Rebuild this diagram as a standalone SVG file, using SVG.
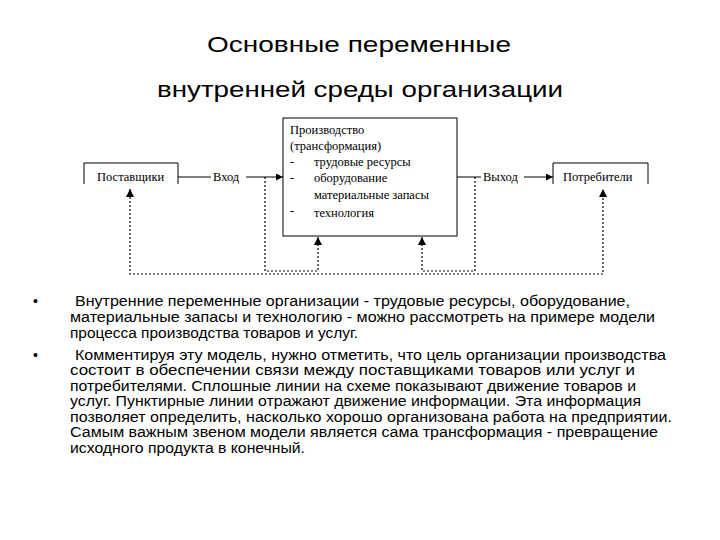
<svg xmlns="http://www.w3.org/2000/svg" width="720" height="540" viewBox="0 0 720 540">
<defs>
<marker id="a" viewBox="0 0 10 10" refX="10" refY="5" markerWidth="7" markerHeight="7" orient="auto-start-reverse"><path d="M0,0L10,5L0,10z" fill="#000"/></marker>
<style>
.t{font-family:"Liberation Serif",serif;font-size:12.5px;fill:#000}
.b{font-family:"Liberation Sans",Arial,sans-serif;font-size:14px;fill:#000}
.h{font-family:"Liberation Sans",Arial,sans-serif;font-size:22px;fill:#000}
.s{stroke:#000;stroke-width:1;fill:none}
.d{stroke:#000;stroke-width:1.2;fill:none;stroke-dasharray:2,2}
</style>
</defs>
<rect width="720" height="540" fill="#fff"/>
<text class="h" x="207" y="52" textLength="304" lengthAdjust="spacingAndGlyphs">Основные переменные</text>
<text class="h" x="157" y="97" textLength="406" lengthAdjust="spacingAndGlyphs">внутренней среды организации</text>
<g id="suppliers"><path class="s" d="M84,184V163H178V184"/><text class="t" x="97" y="181">Поставщики</text></g>
<g id="production"><rect class="s" x="283" y="118" width="174" height="118"/>
<text class="t" x="290" y="134">Производство</text>
<text class="t" x="290" y="150">(трансформация)</text>
<text class="t" x="290" y="166">-</text><text class="t" x="314" y="166">трудовые ресурсы</text>
<text class="t" x="290" y="182">-</text><text class="t" x="314" y="182">оборудование</text>
<text class="t" x="314" y="199">материальные запасы</text>
<text class="t" x="290" y="215">-</text><text class="t" x="314" y="217">технология</text></g>
<g id="consumers"><path class="s" d="M553,184V163H648V184"/><text class="t" x="563" y="181">Потребители</text></g>
<g id="connectors">
<path class="s" d="M178,177H211M246,177H283" marker-end="url(#a)"/>
<text class="t" x="213" y="181">Вход</text>
<path class="s" d="M457,177H481M524,177H553" marker-end="url(#a)"/>
<text class="t" x="483" y="181">Выход</text>
<path class="d" d="M265,177V271H318V237" marker-end="url(#a)"/>
<path class="d" d="M475,177V271H422V237" marker-end="url(#a)"/>
<path class="d" d="M130,189V274H603V189" marker-start="url(#a)" marker-end="url(#a)"/>
</g>
<text class="b" x="33" y="306">•</text>
<text class="b" x="33" y="360">•</text>
<g class="b">
<text x="75" y="306" textLength="555" lengthAdjust="spacingAndGlyphs">Внутренние переменные организации - трудовые ресурсы, оборудование,</text>
<text x="70" y="322" textLength="585" lengthAdjust="spacingAndGlyphs">материальные запасы и технологию - можно рассмотреть на примере модели</text>
<text x="70" y="338" textLength="288" lengthAdjust="spacingAndGlyphs">процесса производства товаров и услуг.</text>
<text x="75" y="360" textLength="591" lengthAdjust="spacingAndGlyphs">Комментируя эту модель, нужно отметить, что цель организации производства</text>
<text x="70" y="375" textLength="565" lengthAdjust="spacingAndGlyphs">состоит в обеспечении связи между поставщиками товаров или услуг и</text>
<text x="70" y="391" textLength="566" lengthAdjust="spacingAndGlyphs">потребителями. Сплошные линии на схеме показывают движение товаров и</text>
<text x="70" y="406" textLength="571" lengthAdjust="spacingAndGlyphs">услуг. Пунктирные линии отражают движение информации. Эта информация</text>
<text x="70" y="422" textLength="602" lengthAdjust="spacingAndGlyphs">позволяет определить, насколько хорошо организована работа на предприятии.</text>
<text x="70" y="437" textLength="588" lengthAdjust="spacingAndGlyphs">Самым важным звеном модели является сама трансформация - превращение</text>
<text x="70" y="453" textLength="235" lengthAdjust="spacingAndGlyphs">исходного продукта в конечный.</text>
</g>
</svg>
